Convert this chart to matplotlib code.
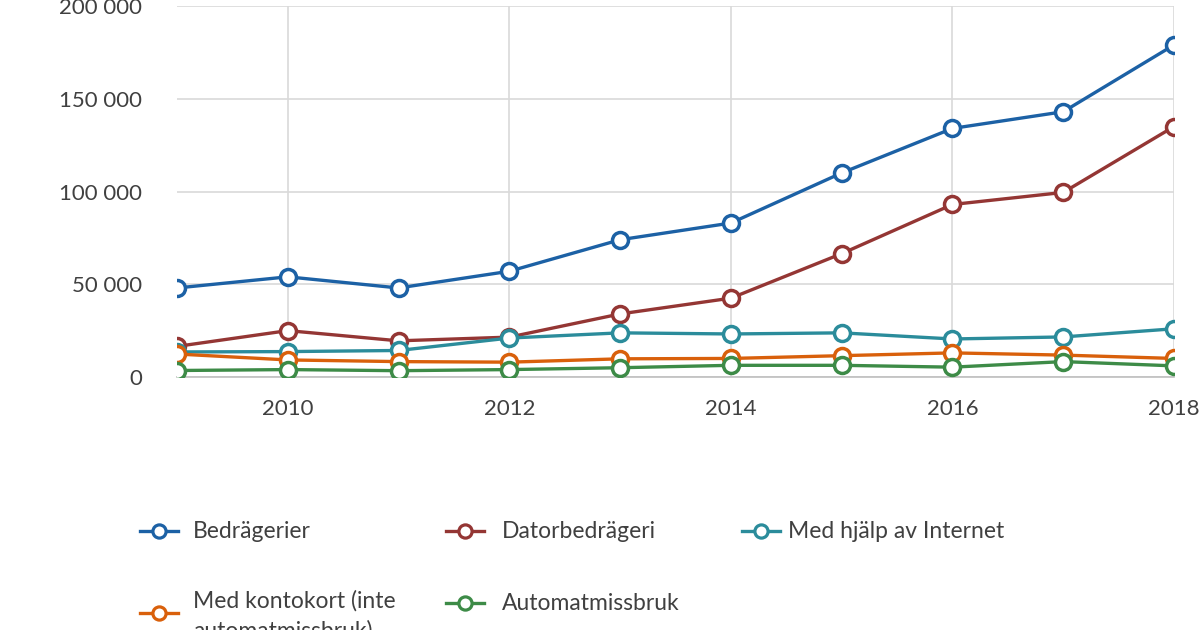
import numpy as np
import matplotlib.pyplot as plt
from matplotlib.lines import Line2D
from matplotlib.ticker import FuncFormatter, MultipleLocator

plt.rcParams['font.family'] = ['Lato', 'DejaVu Sans']

years = [2009, 2010, 2011, 2012, 2013, 2014, 2015, 2016, 2017, 2018]
bedragerier = [48000, 54000, 48000, 57000, 74000, 83000, 110000, 134000, 143000, 179000]
datorbedrageri = [16500, 25000, 19500, 21500, 34000, 42500, 66500, 93000, 99500, 135000]
internet = [13500, 13700, 14300, 21000, 23800, 23200, 23800, 20500, 21600, 26000]
kontokort = [12400, 9200, 8300, 8000, 9800, 10000, 11500, 13000, 11800, 10000]
automat = [3500, 4000, 3400, 4000, 5000, 6300, 6300, 5300, 8300, 6000]

series = [bedragerier, datorbedrageri, internet, kontokort, automat]
labels = ["Bedrägerier", "Datorbedrägeri", "Med hjälp av Internet",
          "Med kontokort (inte\nautomatmissbruk)", "Automatmissbruk"]
colors = ["#1C61A5", "#943634", "#2B8C9B", "#D9600B", "#3D8B47"]
txt_color = "#404040"

fig = plt.figure(figsize=(12, 6.3), dpi=100)
ax = fig.add_axes([177 / 1200, 1 - 377 / 630, (1174 - 177) / 1200, (377 - 6) / 630])

for vals, c in zip(series, colors):
    ax.plot(years, vals, color=c, lw=2.4, marker="o", ms=11.5, mfc="white",
            mec=c, mew=2.5, zorder=3)

ax.set_xlim(2009, 2018)
ax.set_ylim(0, 200000)
ax.xaxis.set_major_locator(MultipleLocator(2))
ax.yaxis.set_major_locator(MultipleLocator(50000))
ax.yaxis.set_major_formatter(FuncFormatter(lambda v, p: f"{int(v):,}".replace(",", " ")))
ax.grid(True, color="#d9d9d9", lw=1.2)
ax.set_axisbelow(True)
for s in ["top", "right", "left"]:
    ax.spines[s].set_visible(False)
ax.spines["bottom"].set_color("#bfbfbf")
ax.spines["bottom"].set_linewidth(1.2)
ax.tick_params(axis="both", length=0, labelsize=16, colors=txt_color)
ax.tick_params(axis="y", pad=25)
ax.tick_params(axis="x", pad=16)

# legend, placed by hand
pos = [(140, 531), (446, 531), (742, 531), (140, 613), (446, 603)]
text_pos = [(193, 531), (502, 531), (788, 531), (193, 616), (502, 603)]
for (lx, ly), (tx, ty), lab, c in zip(pos, text_pos, labels, colors):
    fy = 1 - ly / 630
    fig.add_artist(Line2D([lx / 1200, (lx + 38) / 1200], [fy, fy], color=c, lw=2.4,
                          transform=fig.transFigure))
    fig.add_artist(Line2D([(lx + 19) / 1200], [fy], color=c, marker="o", ms=9.5,
                          mfc="white", mec=c, mew=2.3, transform=fig.transFigure))
    fig.text(tx / 1200, 1 - ty / 630, lab, fontsize=16.5, color=txt_color,
             va="center", ha="left", linespacing=1.45)

fig.savefig("out.png", dpi=100)
